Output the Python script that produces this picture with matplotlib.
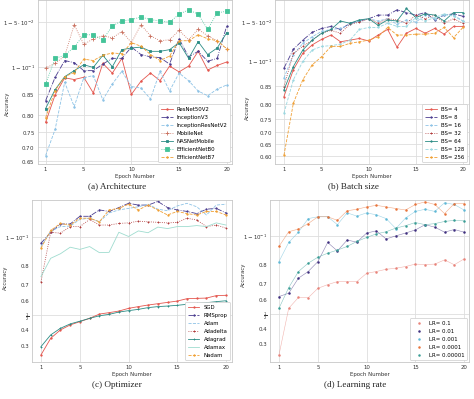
import matplotlib
matplotlib.use('Agg')
import matplotlib.pyplot as plt
from matplotlib.ticker import FixedLocator, FixedFormatter

epochs = list(range(1, 21))
xticks = [1, 5, 10, 15, 20]

# (a) Architecture
arch_labels = ['ResNet50V2', 'InceptionV3', 'InceptionResNetV2', 'MobileNet',
               'NASNetMobile', 'EfficientNetB0', 'EfficientNetB7']
resnet50v2 = [0.780, 0.849, 0.882, 0.879, 0.883, 0.853, 0.905, 0.890, 0.912, 0.850,
              0.876, 0.890, 0.877, 0.901, 0.892, 0.901, 0.921, 0.895, 0.902, 0.907]
inceptionv3 = [0.836, 0.883, 0.909, 0.906, 0.894, 0.894, 0.904, 0.912, 0.912, 0.926,
               0.917, 0.914, 0.913, 0.904, 0.935, 0.914, 0.921, 0.908, 0.912, 0.947]
inceptionresnetv2 = [0.670, 0.759, 0.874, 0.822, 0.882, 0.886, 0.838, 0.871, 0.893, 0.866,
                     0.863, 0.840, 0.893, 0.857, 0.890, 0.877, 0.857, 0.847, 0.861, 0.869]
mobilenet = [0.898, 0.905, 0.915, 0.948, 0.929, 0.935, 0.938, 0.936, 0.942, 0.931,
             0.948, 0.938, 0.933, 0.934, 0.943, 0.934, 0.944, 0.938, 0.933, 0.924]
nasnetmobile = [0.817, 0.860, 0.884, 0.894, 0.903, 0.899, 0.916, 0.900, 0.923, 0.925,
                0.926, 0.921, 0.921, 0.923, 0.931, 0.912, 0.932, 0.917, 0.925, 0.941]
efficientnetb0 = [0.871, 0.912, 0.916, 0.926, 0.939, 0.939, 0.934, 0.947, 0.951, 0.952,
                  0.954, 0.952, 0.951, 0.950, 0.956, 0.959, 0.956, 0.944, 0.957, 0.958]
efficientnetb7 = [0.793, 0.858, 0.884, 0.891, 0.911, 0.909, 0.916, 0.919, 0.918, 0.931,
                  0.927, 0.917, 0.909, 0.915, 0.933, 0.933, 0.939, 0.935, 0.933, 0.924]

# (b) Batch size
bs_labels = ['BS= 4', 'BS= 8', 'BS= 16', 'BS= 32', 'BS= 64', 'BS= 128', 'BS= 256']
bs4 = [0.822, 0.885, 0.913, 0.925, 0.932, 0.937, 0.929, 0.931, 0.933, 0.930,
       0.937, 0.943, 0.922, 0.939, 0.944, 0.939, 0.944, 0.938, 0.946, 0.946]
bs8 = [0.888, 0.919, 0.931, 0.940, 0.944, 0.946, 0.943, 0.949, 0.951, 0.953,
       0.956, 0.956, 0.960, 0.958, 0.956, 0.958, 0.952, 0.956, 0.957, 0.955]
bs16 = [0.868, 0.911, 0.927, 0.935, 0.941, 0.943, 0.944, 0.948, 0.951, 0.953,
        0.951, 0.953, 0.948, 0.952, 0.950, 0.956, 0.953, 0.956, 0.956, 0.951]
bs32 = [0.848, 0.913, 0.923, 0.931, 0.939, 0.942, 0.939, 0.948, 0.950, 0.953,
        0.949, 0.953, 0.952, 0.949, 0.956, 0.953, 0.956, 0.949, 0.953, 0.949]
bs64 = [0.840, 0.891, 0.918, 0.931, 0.939, 0.943, 0.951, 0.949, 0.952, 0.953,
        0.947, 0.952, 0.951, 0.961, 0.954, 0.957, 0.956, 0.951, 0.958, 0.958]
bs128 = [0.771, 0.864, 0.900, 0.918, 0.923, 0.924, 0.926, 0.931, 0.943, 0.945,
         0.945, 0.949, 0.946, 0.946, 0.954, 0.951, 0.954, 0.957, 0.955, 0.951]
bs256 = [0.602, 0.803, 0.864, 0.894, 0.908, 0.923, 0.923, 0.927, 0.929, 0.931,
         0.935, 0.945, 0.937, 0.937, 0.938, 0.938, 0.939, 0.945, 0.934, 0.945]

# (c) Optimizer
opt_labels = ['SGD', 'RMSprop', 'Adam', 'Adadelta', 'Adagrad', 'Adamax', 'Nadam']
sgd = [0.248, 0.345, 0.400, 0.434, 0.457, 0.480, 0.510, 0.520, 0.531, 0.550,
       0.562, 0.573, 0.582, 0.591, 0.600, 0.616, 0.618, 0.620, 0.636, 0.638]
rmsprop = [0.884, 0.912, 0.929, 0.929, 0.942, 0.942, 0.951, 0.949, 0.954, 0.959,
           0.957, 0.957, 0.961, 0.954, 0.951, 0.949, 0.946, 0.952, 0.953, 0.947]
adam = [0.874, 0.914, 0.924, 0.925, 0.937, 0.939, 0.933, 0.947, 0.951, 0.953,
        0.955, 0.958, 0.952, 0.950, 0.956, 0.959, 0.955, 0.944, 0.957, 0.958]
adadelta = [0.721, 0.912, 0.910, 0.924, 0.924, 0.937, 0.927, 0.927, 0.930, 0.931,
            0.934, 0.933, 0.932, 0.931, 0.932, 0.939, 0.936, 0.924, 0.927, 0.921]
adagrad = [0.294, 0.367, 0.411, 0.441, 0.460, 0.480, 0.498, 0.508, 0.524, 0.534,
           0.543, 0.555, 0.562, 0.566, 0.571, 0.578, 0.584, 0.589, 0.596, 0.602]
adamax = [0.749, 0.833, 0.850, 0.872, 0.865, 0.874, 0.854, 0.855, 0.912, 0.902,
          0.915, 0.911, 0.923, 0.920, 0.924, 0.924, 0.926, 0.924, 0.931, 0.927]
nadam = [0.869, 0.916, 0.930, 0.927, 0.939, 0.939, 0.933, 0.951, 0.953, 0.958,
         0.951, 0.957, 0.951, 0.944, 0.949, 0.946, 0.944, 0.949, 0.949, 0.944]

# (d) Learning rate
lr_labels = ['LR= 0.1', 'LR= 0.01', 'LR= 0.001', 'LR= 0.0001', 'LR= 0.00001']
lr_0_1 = [0.241, 0.541, 0.615, 0.613, 0.674, 0.696, 0.714, 0.714, 0.714, 0.759,
          0.768, 0.779, 0.784, 0.792, 0.803, 0.801, 0.803, 0.821, 0.800, 0.825]
lr_0_01 = [0.621, 0.643, 0.733, 0.768, 0.814, 0.882, 0.855, 0.889, 0.883, 0.907,
           0.912, 0.892, 0.900, 0.907, 0.914, 0.925, 0.920, 0.909, 0.915, 0.909]
lr_0_001 = [0.814, 0.882, 0.909, 0.936, 0.939, 0.939, 0.925, 0.945, 0.940, 0.945,
            0.942, 0.936, 0.917, 0.937, 0.947, 0.950, 0.947, 0.958, 0.956, 0.949]
lr_0_0001 = [0.870, 0.910, 0.916, 0.927, 0.939, 0.939, 0.933, 0.948, 0.950, 0.953,
             0.955, 0.953, 0.951, 0.949, 0.956, 0.959, 0.956, 0.944, 0.957, 0.957]
lr_0_00001 = [0.541, 0.678, 0.768, 0.807, 0.832, 0.847, 0.858, 0.870, 0.885, 0.896,
              0.905, 0.910, 0.918, 0.923, 0.929, 0.925, 0.927, 0.931, 0.933, 0.932]

# y tick labels for the wide-range panels (c) and (d)
major_ticks_cd = [0.5, 0.9]
major_labels_cd = [r'$\frac{1}{2}$', r'$1-10^{-1}$']
minor_ticks_cd = [0.3, 0.4, 0.6, 0.7, 0.8]
minor_labels_cd = ['0.3', '0.4', '0.6', '0.7', '0.8']

captions = ['(a) Architecture', '(b) Batch size', '(c) Optimizer', '(d) Learning rate']

pal = ['#e4574f', '#4b3d8f', '#8ec3e6', '#c9705e', '#2b8c85', '#44c499', '#f0a035']
pal_b = ['#e4574f', '#4b3d8f', '#8ec3e6', '#b03a3a', '#2b8c85', '#9ad7e0', '#f0a035']
pal_c = ['#e4574f', '#4b3d8f', '#8ec3e6', '#b03a3a', '#2b8c85', '#9fdccf', '#f0a035']
pal_d = ['#e8837a', '#3f2f7f', '#5fb8d6', '#e8743b', '#3a9e96']
styles = ['-', '-.', '--', ':', '-', ':', '--']
marks = ['.', '.', '.', '+', 's', 's', '.']

FS = 3.9
W, H = 474, 399
fig = plt.figure(figsize=(W / 100, H / 100), dpi=100)


def make_ax(l, r, t, b):
    return fig.add_axes([l / W, 1 - b / H, (r - l) / W, (b - t) / H])


def style_ax(ax, xlim, ylim, ylab_pos, fixed=False):
    ax.set_yscale('logit')
    ax.set_xlim(*xlim)
    ax.set_ylim(*ylim)
    ax.set_xticks(xticks)
    ax.set_xticklabels([str(v) for v in xticks])
    if fixed:
        ax.yaxis.set_major_locator(FixedLocator(major_ticks_cd))
        ax.yaxis.set_major_formatter(FixedFormatter(major_labels_cd))
        ax.yaxis.set_minor_locator(FixedLocator(minor_ticks_cd))
        ax.yaxis.set_minor_formatter(FixedFormatter(minor_labels_cd))
    ax.grid(True, which='major', color='#dedede', lw=0.6)
    ax.set_axisbelow(True)
    for s in ax.spines.values():
        s.set_color('#c8c8c8')
        s.set_linewidth(0.6)
    ax.tick_params(axis='both', which='both', length=0, labelsize=FS, pad=2,
                   labelcolor='#333333')
    ax.set_xlabel('Epoch Number', fontsize=FS, labelpad=1.5, color='#333333')
    ax.set_ylabel('Accuracy', fontsize=FS, color='#333333')
    ax.yaxis.set_label_coords(*ylab_pos)


def legend(ax):
    ax.legend(loc='lower right', fontsize=FS, frameon=True, framealpha=1,
              edgecolor='#cccccc', borderpad=0.5, labelspacing=0.55,
              handlelength=2.2, borderaxespad=0.3).get_frame().set_linewidth(0.5)


# (a)
ax = make_ax(37.5, 232, 0, 164)
series_a = [resnet50v2, inceptionv3, inceptionresnetv2, mobilenet, nasnetmobile,
            efficientnetb0, efficientnetb7]
for i, (y, lab) in enumerate(zip(series_a, arch_labels)):
    ms = 2.3 if i == 5 else (1.5 if i == 4 else 2.2)
    ax.plot(epochs, y, linestyle=styles[i], marker=marks[i], color=pal[i], lw=0.6,
            ms=ms, mew=0.6, label=lab)
style_ax(ax, (0.15, 20.55), (0.638, 0.965), (-0.14, 0.37))
legend(ax)

# (b)
ax = make_ax(275, 469, 0, 164)
series_b = [bs4, bs8, bs16, bs32, bs64, bs128, bs256]
marks_b = ['.', '.', '.', '+', '.', '.', '.']
for i, (y, lab) in enumerate(zip(series_b, bs_labels)):
    ax.plot(epochs, y, linestyle=styles[i] if i != 5 else '--', marker=marks_b[i],
            color=pal_b[i], lw=0.6, ms=2.0, mew=0.6, label=lab)
style_ax(ax, (0.05, 20.64), (0.5617, 0.9666), (-0.13, 0.34))
legend(ax)

# (c)
ax = make_ax(32, 232, 200, 362)
series_c = [sgd, rmsprop, adam, adadelta, adagrad, adamax, nadam]
marks_c = ['.', '.', '', '+', '+', '', '.']
for i, (y, lab) in enumerate(zip(series_c, opt_labels)):
    ax.plot(epochs, y, linestyle=styles[i] if i != 5 else '-', marker=marks_c[i] or None,
            color=pal_c[i], lw=0.6, ms=2.0, mew=0.6, label=lab)
style_ax(ax, (0.08, 20.62), (0.213, 0.9625), (-0.12, 0.52), fixed=True)
legend(ax)

# (d)
ax = make_ax(270, 469, 200, 362)
series_d = [lr_0_1, lr_0_01, lr_0_001, lr_0_0001, lr_0_00001]
for i, (y, lab) in enumerate(zip(series_d, lr_labels)):
    ax.plot(epochs, y, linestyle='-', color=pal_d[i], lw=0.4, alpha=0.6)
    ax.plot(epochs, y, linestyle='none', marker='o', color=pal_d[i], ms=1.8,
            mew=0, label=lab)
style_ax(ax, (0.08, 20.51), (0.207, 0.961), (-0.12, 0.54), fixed=True)
legend(ax)

cap_pos = [(117, 186), (354, 186), (117, 385), (355, 385)]
for (cx, cy), txt in zip(cap_pos, captions):
    fig.text(cx / W, 1 - cy / H, txt, ha='center', va='center',
             family='Liberation Serif', fontsize=6.6, color='#222222')

fig.savefig('out.png', dpi=100)
